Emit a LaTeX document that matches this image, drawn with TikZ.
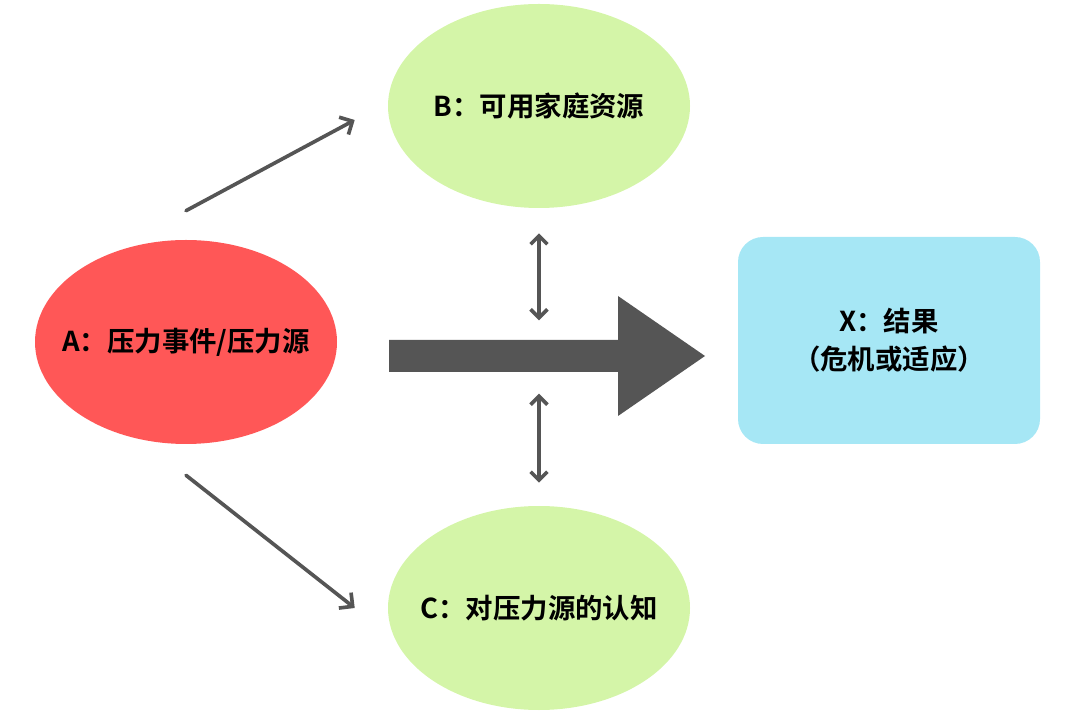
\documentclass[tikz,border=0pt]{standalone}
\usepackage{fontspec}
\setmainfont{Noto Sans CJK SC}[BoldFont={Noto Sans CJK SC Bold}]
\usepackage{xcolor}
\usetikzlibrary{arrows.meta,shapes.geometric,calc}
\definecolor{stressred}{HTML}{FF5757}
\definecolor{resgreen}{HTML}{D4F5A8}
\definecolor{outblue}{HTML}{A6E7F5}
\definecolor{arrowgray}{HTML}{555555}
\newcommand{\nowidth}[1]{\makebox[0pt]{#1}}

\begin{document}
\begin{tikzpicture}[
        factor/.style={ellipse, minimum width=7.55cm, minimum height=5.1cm, inner sep=0pt, font=\fontsize{19.5}{23}\selectfont\bfseries},
        link/.style={arrowgray, line width=2.6pt, line cap=round, -{Straight Barb[length=7pt, width=14pt, line width=2.6pt]}},
        both/.style={arrowgray, line width=2.6pt, line cap=round, {Straight Barb[length=6pt, width=12pt, line width=2.6pt]}-{Straight Barb[length=6pt, width=12pt, line width=2.6pt]}}
    ]
        \useasboundingbox (0,0) rectangle (27,17.925);

        % Draw the three factors
        \node[factor, fill=stressred] (A) at (4.65,9.375) {\nowidth{A：压力事件/压力源}};
        \node[factor, fill=resgreen] (B) at (13.475,15.275) {\nowidth{B：可用家庭资源}};
        \node[factor, fill=resgreen] (C) at (13.475,2.725) {\nowidth{C：对压力源的认知}};

        % Draw the outcome box
        \node[fill=outblue, rounded corners=0.625cm, minimum width=7.55cm, minimum height=5.175cm, align=center,
              font=\fontsize{19.5}{23}\selectfont\bfseries] (X) at (22.225,9.4125) {X：结果\\[4pt]（危机或适应）};

        % Draw the big arrow
        \fill[arrowgray] (9.725,8.625) -- (15.45,8.625) -- (15.45,7.525) -- (17.625,9.025)
            -- (15.45,10.525) -- (15.45,9.425) -- (9.725,9.425) -- cycle;

        % Draw the arrows from A
        \coordinate (AtoB) at ($(A.north)+(0,0.725)$);
        \coordinate (BfromA) at ($(B.west)+(-0.825,-0.35)$);
        \coordinate (AtoC) at ($(A.south)+(0,-0.775)$);
        \coordinate (CfromA) at ($(C.west)+(-0.825,0)$);
        \draw[link] (AtoB) -- (BfromA);
        \draw[link] (AtoC) -- (CfromA);

        % Draw the two-way arrows
        \coordinate (Bdown) at ($(B.south)+(0,-0.625)$);
        \coordinate (Bup) at ($(B.south)+(0,-2.8)$);
        \coordinate (Cup) at ($(C.north)+(0,0.575)$);
        \coordinate (Cdown) at ($(C.north)+(0,2.8)$);
        \draw[both] (Bdown) -- (Bup);
        \draw[both] (Cup) -- (Cdown);

    \end{tikzpicture}
\end{document}
